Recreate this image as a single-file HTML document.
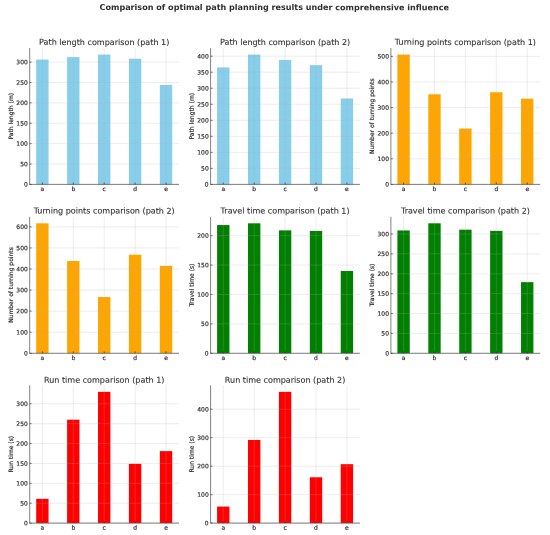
<!DOCTYPE html>
<html lang="en"><head><meta charset="utf-8"><title>Comparison of optimal path planning results</title>
<style>
html,body{margin:0;padding:0;background:#fff;}
body{width:550px;height:535px;overflow:hidden;}
.s{font-size:6px;fill:#333;stroke:#333;stroke-width:0.2px;}
.t{font-size:8.06px;fill:#303030;stroke:#303030;stroke-width:0.1px;}
svg{display:block;font-family:"DejaVu Sans","Liberation Sans",sans-serif;text-rendering:geometricPrecision;}
</style></head><body>
<svg width="550" height="535" viewBox="0 0 550 535">
<rect width="550" height="535" fill="#fff"/>
<text transform="matrix(1 0.0005 0 1 274.25 10.1)" text-anchor="middle" font-size="8.075" font-weight="bold" fill="#303030">Comparison of optimal path planning results under comprehensive influence</text>
<g>
<rect x="36.20" y="59.56" width="12.36" height="124.84" fill="#87ceeb"/>
<rect x="67.11" y="57.12" width="12.36" height="127.28" fill="#87ceeb"/>
<rect x="98.02" y="54.59" width="12.36" height="129.81" fill="#87ceeb"/>
<rect x="128.93" y="58.67" width="12.36" height="125.73" fill="#87ceeb"/>
<rect x="159.84" y="84.95" width="12.36" height="99.45" fill="#87ceeb"/>
<path d="M42.38 48.10V184.40M73.29 48.10V184.40M104.20 48.10V184.40M135.11 48.10V184.40M166.02 48.10V184.40M29.40 184.40H179.00M29.40 164.02H179.00M29.40 143.64H179.00M29.40 123.27H179.00M29.40 102.89H179.00M29.40 82.51H179.00M29.40 62.13H179.00" stroke="#b0b0b0" stroke-opacity="0.45" stroke-width="0.5" fill="none"/>
<path d="M29.70 48.10V184.40M29.40 184.40H179.00" stroke="#4d4d4d" stroke-width="0.7" fill="none"/>
<path d="M42.38 184.40v-1.9M73.29 184.40v-1.9M104.20 184.40v-1.9M135.11 184.40v-1.9M166.02 184.40v-1.9M29.70 184.40h1.9M29.70 164.02h1.9M29.70 143.64h1.9M29.70 123.27h1.9M29.70 102.89h1.9M29.70 82.51h1.9M29.70 62.13h1.9" stroke="#2a2a2a" stroke-width="0.65" fill="none"/>
<text transform="matrix(1 0.0005 0 1 42.38 191.10)" text-anchor="middle" class="s">a</text>
<text transform="matrix(1 0.0005 0 1 73.29 191.10)" text-anchor="middle" class="s">b</text>
<text transform="matrix(1 0.0005 0 1 104.20 191.10)" text-anchor="middle" class="s">c</text>
<text transform="matrix(1 0.0005 0 1 135.11 191.10)" text-anchor="middle" class="s">d</text>
<text transform="matrix(1 0.0005 0 1 166.02 191.10)" text-anchor="middle" class="s">e</text>
<text transform="matrix(1 0.0005 0 1 27.80 186.60)" text-anchor="end" class="s">0</text>
<text transform="matrix(1 0.0005 0 1 27.80 166.22)" text-anchor="end" class="s">50</text>
<text transform="matrix(1 0.0005 0 1 27.80 145.84)" text-anchor="end" class="s">100</text>
<text transform="matrix(1 0.0005 0 1 27.80 125.47)" text-anchor="end" class="s">150</text>
<text transform="matrix(1 0.0005 0 1 27.80 105.09)" text-anchor="end" class="s">200</text>
<text transform="matrix(1 0.0005 0 1 27.80 84.71)" text-anchor="end" class="s">250</text>
<text transform="matrix(1 0.0005 0 1 27.80 64.33)" text-anchor="end" class="s">300</text>
<text transform="matrix(1 0.0005 0 1 104.20 44.90)" text-anchor="middle" class="t">Path length comparison (path 1)</text>
<text transform="matrix(0.0005 -1 1 0 12.90 116.25)" text-anchor="middle" class="s">Path length (m)</text>
</g>
<g>
<rect x="217.10" y="67.41" width="12.36" height="116.99" fill="#87ceeb"/>
<rect x="248.01" y="54.59" width="12.36" height="129.81" fill="#87ceeb"/>
<rect x="278.92" y="60.04" width="12.36" height="124.36" fill="#87ceeb"/>
<rect x="309.83" y="65.17" width="12.36" height="119.23" fill="#87ceeb"/>
<rect x="340.74" y="98.50" width="12.36" height="85.90" fill="#87ceeb"/>
<path d="M223.28 48.10V184.40M254.19 48.10V184.40M285.10 48.10V184.40M316.01 48.10V184.40M346.92 48.10V184.40M210.30 184.40H359.90M210.30 168.37H359.90M210.30 152.35H359.90M210.30 136.32H359.90M210.30 120.30H359.90M210.30 104.27H359.90M210.30 88.24H359.90M210.30 72.22H359.90M210.30 56.19H359.90" stroke="#b0b0b0" stroke-opacity="0.45" stroke-width="0.5" fill="none"/>
<path d="M210.60 48.10V184.40M210.30 184.40H359.90" stroke="#4d4d4d" stroke-width="0.7" fill="none"/>
<path d="M223.28 184.40v-1.9M254.19 184.40v-1.9M285.10 184.40v-1.9M316.01 184.40v-1.9M346.92 184.40v-1.9M210.60 184.40h1.9M210.60 168.37h1.9M210.60 152.35h1.9M210.60 136.32h1.9M210.60 120.30h1.9M210.60 104.27h1.9M210.60 88.24h1.9M210.60 72.22h1.9M210.60 56.19h1.9" stroke="#2a2a2a" stroke-width="0.65" fill="none"/>
<text transform="matrix(1 0.0005 0 1 223.28 191.10)" text-anchor="middle" class="s">a</text>
<text transform="matrix(1 0.0005 0 1 254.19 191.10)" text-anchor="middle" class="s">b</text>
<text transform="matrix(1 0.0005 0 1 285.10 191.10)" text-anchor="middle" class="s">c</text>
<text transform="matrix(1 0.0005 0 1 316.01 191.10)" text-anchor="middle" class="s">d</text>
<text transform="matrix(1 0.0005 0 1 346.92 191.10)" text-anchor="middle" class="s">e</text>
<text transform="matrix(1 0.0005 0 1 208.70 186.60)" text-anchor="end" class="s">0</text>
<text transform="matrix(1 0.0005 0 1 208.70 170.57)" text-anchor="end" class="s">50</text>
<text transform="matrix(1 0.0005 0 1 208.70 154.55)" text-anchor="end" class="s">100</text>
<text transform="matrix(1 0.0005 0 1 208.70 138.52)" text-anchor="end" class="s">150</text>
<text transform="matrix(1 0.0005 0 1 208.70 122.50)" text-anchor="end" class="s">200</text>
<text transform="matrix(1 0.0005 0 1 208.70 106.47)" text-anchor="end" class="s">250</text>
<text transform="matrix(1 0.0005 0 1 208.70 90.44)" text-anchor="end" class="s">300</text>
<text transform="matrix(1 0.0005 0 1 208.70 74.42)" text-anchor="end" class="s">350</text>
<text transform="matrix(1 0.0005 0 1 208.70 58.39)" text-anchor="end" class="s">400</text>
<text transform="matrix(1 0.0005 0 1 285.10 44.90)" text-anchor="middle" class="t">Path length comparison (path 2)</text>
<text transform="matrix(0.0005 -1 1 0 193.80 116.25)" text-anchor="middle" class="s">Path length (m)</text>
</g>
<g>
<rect x="397.40" y="54.59" width="12.36" height="129.81" fill="#ffa500"/>
<rect x="428.31" y="94.28" width="12.36" height="90.12" fill="#ffa500"/>
<rect x="459.22" y="128.58" width="12.36" height="55.82" fill="#ffa500"/>
<rect x="490.13" y="92.23" width="12.36" height="92.17" fill="#ffa500"/>
<rect x="521.04" y="98.63" width="12.36" height="85.77" fill="#ffa500"/>
<path d="M403.58 48.10V184.40M434.49 48.10V184.40M465.40 48.10V184.40M496.31 48.10V184.40M527.22 48.10V184.40M390.60 184.40H540.20M390.60 158.80H540.20M390.60 133.19H540.20M390.60 107.59H540.20M390.60 81.99H540.20M390.60 56.38H540.20" stroke="#b0b0b0" stroke-opacity="0.45" stroke-width="0.5" fill="none"/>
<path d="M390.90 48.10V184.40M390.60 184.40H540.20" stroke="#4d4d4d" stroke-width="0.7" fill="none"/>
<path d="M403.58 184.40v-1.9M434.49 184.40v-1.9M465.40 184.40v-1.9M496.31 184.40v-1.9M527.22 184.40v-1.9M390.90 184.40h1.9M390.90 158.80h1.9M390.90 133.19h1.9M390.90 107.59h1.9M390.90 81.99h1.9M390.90 56.38h1.9" stroke="#2a2a2a" stroke-width="0.65" fill="none"/>
<text transform="matrix(1 0.0005 0 1 403.58 191.10)" text-anchor="middle" class="s">a</text>
<text transform="matrix(1 0.0005 0 1 434.49 191.10)" text-anchor="middle" class="s">b</text>
<text transform="matrix(1 0.0005 0 1 465.40 191.10)" text-anchor="middle" class="s">c</text>
<text transform="matrix(1 0.0005 0 1 496.31 191.10)" text-anchor="middle" class="s">d</text>
<text transform="matrix(1 0.0005 0 1 527.22 191.10)" text-anchor="middle" class="s">e</text>
<text transform="matrix(1 0.0005 0 1 389.00 186.60)" text-anchor="end" class="s">0</text>
<text transform="matrix(1 0.0005 0 1 389.00 161.00)" text-anchor="end" class="s">100</text>
<text transform="matrix(1 0.0005 0 1 389.00 135.39)" text-anchor="end" class="s">200</text>
<text transform="matrix(1 0.0005 0 1 389.00 109.79)" text-anchor="end" class="s">300</text>
<text transform="matrix(1 0.0005 0 1 389.00 84.19)" text-anchor="end" class="s">400</text>
<text transform="matrix(1 0.0005 0 1 389.00 58.58)" text-anchor="end" class="s">500</text>
<text transform="matrix(1 0.0005 0 1 465.40 44.90)" text-anchor="middle" class="t">Turning points comparison (path 1)</text>
<text transform="matrix(0.0005 -1 1 0 374.10 116.25)" text-anchor="middle" class="s">Number of turning points</text>
</g>
<g>
<rect x="36.20" y="223.30" width="12.36" height="130.00" fill="#ffa500"/>
<rect x="67.11" y="261.01" width="12.36" height="92.29" fill="#ffa500"/>
<rect x="98.02" y="297.04" width="12.36" height="56.26" fill="#ffa500"/>
<rect x="128.93" y="254.69" width="12.36" height="98.61" fill="#ffa500"/>
<rect x="159.84" y="265.86" width="12.36" height="87.44" fill="#ffa500"/>
<path d="M42.38 216.80V353.30M73.29 216.80V353.30M104.20 216.80V353.30M135.11 216.80V353.30M166.02 216.80V353.30M29.40 353.30H179.00M29.40 332.23H179.00M29.40 311.16H179.00M29.40 290.09H179.00M29.40 269.02H179.00M29.40 247.95H179.00M29.40 226.88H179.00" stroke="#b0b0b0" stroke-opacity="0.45" stroke-width="0.5" fill="none"/>
<path d="M29.70 216.80V353.30M29.40 353.30H179.00" stroke="#4d4d4d" stroke-width="0.7" fill="none"/>
<path d="M42.38 353.30v-1.9M73.29 353.30v-1.9M104.20 353.30v-1.9M135.11 353.30v-1.9M166.02 353.30v-1.9M29.70 353.30h1.9M29.70 332.23h1.9M29.70 311.16h1.9M29.70 290.09h1.9M29.70 269.02h1.9M29.70 247.95h1.9M29.70 226.88h1.9" stroke="#2a2a2a" stroke-width="0.65" fill="none"/>
<text transform="matrix(1 0.0005 0 1 42.38 360.00)" text-anchor="middle" class="s">a</text>
<text transform="matrix(1 0.0005 0 1 73.29 360.00)" text-anchor="middle" class="s">b</text>
<text transform="matrix(1 0.0005 0 1 104.20 360.00)" text-anchor="middle" class="s">c</text>
<text transform="matrix(1 0.0005 0 1 135.11 360.00)" text-anchor="middle" class="s">d</text>
<text transform="matrix(1 0.0005 0 1 166.02 360.00)" text-anchor="middle" class="s">e</text>
<text transform="matrix(1 0.0005 0 1 27.80 355.50)" text-anchor="end" class="s">0</text>
<text transform="matrix(1 0.0005 0 1 27.80 334.43)" text-anchor="end" class="s">100</text>
<text transform="matrix(1 0.0005 0 1 27.80 313.36)" text-anchor="end" class="s">200</text>
<text transform="matrix(1 0.0005 0 1 27.80 292.29)" text-anchor="end" class="s">300</text>
<text transform="matrix(1 0.0005 0 1 27.80 271.22)" text-anchor="end" class="s">400</text>
<text transform="matrix(1 0.0005 0 1 27.80 250.15)" text-anchor="end" class="s">500</text>
<text transform="matrix(1 0.0005 0 1 27.80 229.08)" text-anchor="end" class="s">600</text>
<text transform="matrix(1 0.0005 0 1 104.20 213.60)" text-anchor="middle" class="t">Turning points comparison (path 2)</text>
<text transform="matrix(0.0005 -1 1 0 12.90 285.05)" text-anchor="middle" class="s">Number of turning points</text>
</g>
<g>
<rect x="217.10" y="225.06" width="12.36" height="128.24" fill="#008000"/>
<rect x="248.01" y="223.30" width="12.36" height="130.00" fill="#008000"/>
<rect x="278.92" y="230.36" width="12.36" height="122.94" fill="#008000"/>
<rect x="309.83" y="230.95" width="12.36" height="122.35" fill="#008000"/>
<rect x="340.74" y="270.95" width="12.36" height="82.35" fill="#008000"/>
<path d="M223.28 216.80V353.30M254.19 216.80V353.30M285.10 216.80V353.30M316.01 216.80V353.30M346.92 216.80V353.30M210.30 353.30H359.90M210.30 323.89H359.90M210.30 294.48H359.90M210.30 265.06H359.90M210.30 235.65H359.90" stroke="#b0b0b0" stroke-opacity="0.45" stroke-width="0.5" fill="none"/>
<path d="M210.60 216.80V353.30M210.30 353.30H359.90" stroke="#4d4d4d" stroke-width="0.7" fill="none"/>
<path d="M223.28 353.30v-1.9M254.19 353.30v-1.9M285.10 353.30v-1.9M316.01 353.30v-1.9M346.92 353.30v-1.9M210.60 353.30h1.9M210.60 323.89h1.9M210.60 294.48h1.9M210.60 265.06h1.9M210.60 235.65h1.9" stroke="#2a2a2a" stroke-width="0.65" fill="none"/>
<text transform="matrix(1 0.0005 0 1 223.28 360.00)" text-anchor="middle" class="s">a</text>
<text transform="matrix(1 0.0005 0 1 254.19 360.00)" text-anchor="middle" class="s">b</text>
<text transform="matrix(1 0.0005 0 1 285.10 360.00)" text-anchor="middle" class="s">c</text>
<text transform="matrix(1 0.0005 0 1 316.01 360.00)" text-anchor="middle" class="s">d</text>
<text transform="matrix(1 0.0005 0 1 346.92 360.00)" text-anchor="middle" class="s">e</text>
<text transform="matrix(1 0.0005 0 1 208.70 355.50)" text-anchor="end" class="s">0</text>
<text transform="matrix(1 0.0005 0 1 208.70 326.09)" text-anchor="end" class="s">50</text>
<text transform="matrix(1 0.0005 0 1 208.70 296.68)" text-anchor="end" class="s">100</text>
<text transform="matrix(1 0.0005 0 1 208.70 267.26)" text-anchor="end" class="s">150</text>
<text transform="matrix(1 0.0005 0 1 208.70 237.85)" text-anchor="end" class="s">200</text>
<text transform="matrix(1 0.0005 0 1 285.10 213.60)" text-anchor="middle" class="t">Travel time comparison (path 1)</text>
<text transform="matrix(0.0005 -1 1 0 193.80 285.05)" text-anchor="middle" class="s">Travel time (s)</text>
</g>
<g>
<rect x="397.40" y="230.46" width="12.36" height="122.84" fill="#008000"/>
<rect x="428.31" y="223.30" width="12.36" height="130.00" fill="#008000"/>
<rect x="459.22" y="229.66" width="12.36" height="123.64" fill="#008000"/>
<rect x="490.13" y="230.85" width="12.36" height="122.45" fill="#008000"/>
<rect x="521.04" y="282.14" width="12.36" height="71.16" fill="#008000"/>
<path d="M403.58 216.80V353.30M434.49 216.80V353.30M465.40 216.80V353.30M496.31 216.80V353.30M527.22 216.80V353.30M390.60 353.30H540.20M390.60 333.42H540.20M390.60 313.54H540.20M390.60 293.67H540.20M390.60 273.79H540.20M390.60 253.91H540.20M390.60 234.03H540.20" stroke="#b0b0b0" stroke-opacity="0.45" stroke-width="0.5" fill="none"/>
<path d="M390.90 216.80V353.30M390.60 353.30H540.20" stroke="#4d4d4d" stroke-width="0.7" fill="none"/>
<path d="M403.58 353.30v-1.9M434.49 353.30v-1.9M465.40 353.30v-1.9M496.31 353.30v-1.9M527.22 353.30v-1.9M390.90 353.30h1.9M390.90 333.42h1.9M390.90 313.54h1.9M390.90 293.67h1.9M390.90 273.79h1.9M390.90 253.91h1.9M390.90 234.03h1.9" stroke="#2a2a2a" stroke-width="0.65" fill="none"/>
<text transform="matrix(1 0.0005 0 1 403.58 360.00)" text-anchor="middle" class="s">a</text>
<text transform="matrix(1 0.0005 0 1 434.49 360.00)" text-anchor="middle" class="s">b</text>
<text transform="matrix(1 0.0005 0 1 465.40 360.00)" text-anchor="middle" class="s">c</text>
<text transform="matrix(1 0.0005 0 1 496.31 360.00)" text-anchor="middle" class="s">d</text>
<text transform="matrix(1 0.0005 0 1 527.22 360.00)" text-anchor="middle" class="s">e</text>
<text transform="matrix(1 0.0005 0 1 389.00 355.50)" text-anchor="end" class="s">0</text>
<text transform="matrix(1 0.0005 0 1 389.00 335.62)" text-anchor="end" class="s">50</text>
<text transform="matrix(1 0.0005 0 1 389.00 315.74)" text-anchor="end" class="s">100</text>
<text transform="matrix(1 0.0005 0 1 389.00 295.87)" text-anchor="end" class="s">150</text>
<text transform="matrix(1 0.0005 0 1 389.00 275.99)" text-anchor="end" class="s">200</text>
<text transform="matrix(1 0.0005 0 1 389.00 256.11)" text-anchor="end" class="s">250</text>
<text transform="matrix(1 0.0005 0 1 389.00 236.23)" text-anchor="end" class="s">300</text>
<text transform="matrix(1 0.0005 0 1 465.40 213.60)" text-anchor="middle" class="t">Travel time comparison (path 2)</text>
<text transform="matrix(0.0005 -1 1 0 374.10 285.05)" text-anchor="middle" class="s">Travel time (s)</text>
</g>
<g>
<rect x="36.20" y="498.84" width="12.36" height="24.26" fill="#ff0000"/>
<rect x="67.11" y="419.70" width="12.36" height="103.40" fill="#ff0000"/>
<rect x="98.02" y="391.86" width="12.36" height="131.24" fill="#ff0000"/>
<rect x="128.93" y="463.84" width="12.36" height="59.26" fill="#ff0000"/>
<rect x="159.84" y="451.12" width="12.36" height="71.98" fill="#ff0000"/>
<path d="M42.38 385.30V523.10M73.29 385.30V523.10M104.20 385.30V523.10M135.11 385.30V523.10M166.02 385.30V523.10M29.40 523.10H179.00M29.40 503.22H179.00M29.40 483.33H179.00M29.40 463.45H179.00M29.40 443.56H179.00M29.40 423.68H179.00M29.40 403.79H179.00" stroke="#b0b0b0" stroke-opacity="0.45" stroke-width="0.5" fill="none"/>
<path d="M29.70 385.30V523.10M29.40 523.10H179.00" stroke="#4d4d4d" stroke-width="0.7" fill="none"/>
<path d="M42.38 523.10v-1.9M73.29 523.10v-1.9M104.20 523.10v-1.9M135.11 523.10v-1.9M166.02 523.10v-1.9M29.70 523.10h1.9M29.70 503.22h1.9M29.70 483.33h1.9M29.70 463.45h1.9M29.70 443.56h1.9M29.70 423.68h1.9M29.70 403.79h1.9" stroke="#2a2a2a" stroke-width="0.65" fill="none"/>
<text transform="matrix(1 0.0005 0 1 42.38 529.80)" text-anchor="middle" class="s">a</text>
<text transform="matrix(1 0.0005 0 1 73.29 529.80)" text-anchor="middle" class="s">b</text>
<text transform="matrix(1 0.0005 0 1 104.20 529.80)" text-anchor="middle" class="s">c</text>
<text transform="matrix(1 0.0005 0 1 135.11 529.80)" text-anchor="middle" class="s">d</text>
<text transform="matrix(1 0.0005 0 1 166.02 529.80)" text-anchor="middle" class="s">e</text>
<text transform="matrix(1 0.0005 0 1 27.80 525.30)" text-anchor="end" class="s">0</text>
<text transform="matrix(1 0.0005 0 1 27.80 505.42)" text-anchor="end" class="s">50</text>
<text transform="matrix(1 0.0005 0 1 27.80 485.53)" text-anchor="end" class="s">100</text>
<text transform="matrix(1 0.0005 0 1 27.80 465.65)" text-anchor="end" class="s">150</text>
<text transform="matrix(1 0.0005 0 1 27.80 445.76)" text-anchor="end" class="s">200</text>
<text transform="matrix(1 0.0005 0 1 27.80 425.88)" text-anchor="end" class="s">250</text>
<text transform="matrix(1 0.0005 0 1 27.80 405.99)" text-anchor="end" class="s">300</text>
<text transform="matrix(1 0.0005 0 1 104.20 382.80)" text-anchor="middle" class="t">Run time comparison (path 1)</text>
<text transform="matrix(0.0005 -1 1 0 12.90 454.20)" text-anchor="middle" class="s">Run time (s)</text>
</g>
<g>
<rect x="217.10" y="506.59" width="12.36" height="16.51" fill="#ff0000"/>
<rect x="248.01" y="439.97" width="12.36" height="83.13" fill="#ff0000"/>
<rect x="278.92" y="391.86" width="12.36" height="131.24" fill="#ff0000"/>
<rect x="309.83" y="477.27" width="12.36" height="45.83" fill="#ff0000"/>
<rect x="340.74" y="464.17" width="12.36" height="58.93" fill="#ff0000"/>
<path d="M223.28 385.30V523.10M254.19 385.30V523.10M285.10 385.30V523.10M316.01 385.30V523.10M346.92 385.30V523.10M210.30 523.10H359.90M210.30 494.63H359.90M210.30 466.16H359.90M210.30 437.70H359.90M210.30 409.23H359.90" stroke="#b0b0b0" stroke-opacity="0.45" stroke-width="0.5" fill="none"/>
<path d="M210.60 385.30V523.10M210.30 523.10H359.90" stroke="#4d4d4d" stroke-width="0.7" fill="none"/>
<path d="M223.28 523.10v-1.9M254.19 523.10v-1.9M285.10 523.10v-1.9M316.01 523.10v-1.9M346.92 523.10v-1.9M210.60 523.10h1.9M210.60 494.63h1.9M210.60 466.16h1.9M210.60 437.70h1.9M210.60 409.23h1.9" stroke="#2a2a2a" stroke-width="0.65" fill="none"/>
<text transform="matrix(1 0.0005 0 1 223.28 529.80)" text-anchor="middle" class="s">a</text>
<text transform="matrix(1 0.0005 0 1 254.19 529.80)" text-anchor="middle" class="s">b</text>
<text transform="matrix(1 0.0005 0 1 285.10 529.80)" text-anchor="middle" class="s">c</text>
<text transform="matrix(1 0.0005 0 1 316.01 529.80)" text-anchor="middle" class="s">d</text>
<text transform="matrix(1 0.0005 0 1 346.92 529.80)" text-anchor="middle" class="s">e</text>
<text transform="matrix(1 0.0005 0 1 208.70 525.30)" text-anchor="end" class="s">0</text>
<text transform="matrix(1 0.0005 0 1 208.70 496.83)" text-anchor="end" class="s">100</text>
<text transform="matrix(1 0.0005 0 1 208.70 468.36)" text-anchor="end" class="s">200</text>
<text transform="matrix(1 0.0005 0 1 208.70 439.90)" text-anchor="end" class="s">300</text>
<text transform="matrix(1 0.0005 0 1 208.70 411.43)" text-anchor="end" class="s">400</text>
<text transform="matrix(1 0.0005 0 1 285.10 382.80)" text-anchor="middle" class="t">Run time comparison (path 2)</text>
<text transform="matrix(0.0005 -1 1 0 193.80 454.20)" text-anchor="middle" class="s">Run time (s)</text>
</g>
</svg>
</body></html>
